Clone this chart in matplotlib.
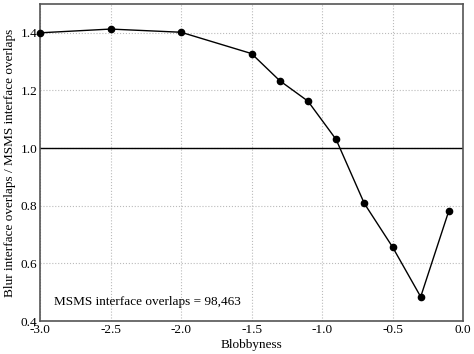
import matplotlib
matplotlib.use("Agg")
import matplotlib.pyplot as plt

blobbyness = [-3.0, -2.5, -2.0, -1.5, -1.3, -1.1, -0.9, -0.7, -0.5, -0.3, -0.1]
ratio = [1.400, 1.413, 1.402, 1.328, 1.234, 1.163, 1.030, 0.808, 0.657, 0.484, 0.783]
xticks = [-3.0, -2.5, -2.0, -1.5, -1.0, -0.5, 0.0]
yticks = [0.4, 0.6, 0.8, 1.0, 1.2, 1.4]
annotation = "MSMS interface overlaps = 98,463"

plt.rcParams['font.family'] = ['Liberation Serif', 'DejaVu Serif']
plt.rcParams['font.size'] = 9.5

fig = plt.figure(figsize=(4.74, 3.54), dpi=100)
ax = fig.add_axes([40/474, 1 - 321/354, 423/474, 317/354])

ax.plot(blobbyness, ratio, color='black', linewidth=1.0, marker='o', markersize=4.5, clip_on=False, zorder=3)
ax.axhline(1.0, color='black', linewidth=1.0, zorder=2)

ax.set_xlim(-3.0, 0.0)
ax.set_ylim(0.4, 1.5)
ax.set_xticks(xticks)
ax.set_xticklabels([f"{t:.1f}" for t in xticks])
ax.set_yticks(yticks)
ax.set_yticklabels([f"{t:.1f}" for t in yticks])
ax.grid(True, linestyle=':', color='#bbbbbb', linewidth=0.8)
ax.tick_params(length=0, pad=2, labelsize=9.5)
for s in ax.spines.values():
    s.set_color('#555555')
    s.set_linewidth(1.2)

ax.set_xlabel("Blobbyness", fontsize=9.5, labelpad=2)
ax.set_ylabel("Blur interface overlaps / MSMS interface overlaps", fontsize=9.5, labelpad=3)
ax.text(-2.9, 0.465, annotation, fontsize=9.5, ha='left', va='center')

fig.savefig("out.png", dpi=100)
